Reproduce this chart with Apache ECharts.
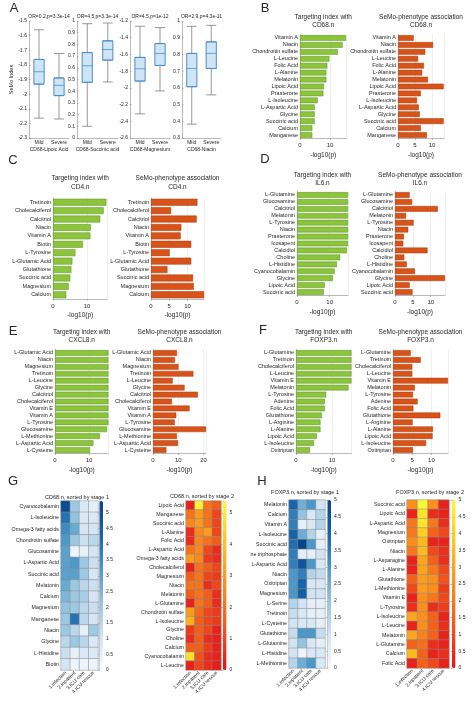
<!DOCTYPE html>
<html>
<head>
<meta charset="utf-8">
<script src="https://cdn.jsdelivr.net/npm/echarts@6/dist/echarts.min.js"></script>
<style>
  html, body { margin: 0; padding: 0; background: #fff; }
  #main { position: absolute; left: 0; top: 0; width: 474px; height: 701px; }
  #hmap { position: absolute; left: 250px; top: 480px; width: 105px; height: 221px; }
</style>
</head>
<body>
<div id="main"></div>
<div id="hmap"></div>
<script>
// ---------- A: SeMo index box plots (min, q1, median, q3, max) ----------
var boxGroups = ['Mild', 'Severe'];
var boxNames = ['CD68-Lipoic Acid', 'CD68-Succinic acid', 'CD68-Magnesium', 'CD68-Niacin'];
var boxTitles = ['OR=0.2,p=3.3e-14', 'OR=4.5,p=3.3e-14', 'OR=4.5,p=1e-12', 'OR=2.9,p=4.3e-11'];
var boxLipoic = [[-2.164, -1.931, -1.847, -1.763, -1.56], [-2.17, -2.01, -1.94, -1.89, -1.722]];
var boxSuccinic = [[0.10, 0.476, 0.617, 0.73, 0.977], [0.479, 0.666, 0.756, 0.83, 0.983]];
var boxMagnesium = [[-2.311, -1.918, -1.771, -1.636, -1.263], [-2.037, -1.732, -1.589, -1.47, -1.279]];
var boxNiacin = [[0.383, 0.607, 0.716, 0.806, 0.968], [0.558, 0.716, 0.806, 0.875, 0.974]];

// ---------- B-F: targeting index / SeMo-phenotype association, -log10(p) ----------
var cd68Cats = ['Vitamin A', 'Niacin', 'Chondroitin sulfate', 'L-Leucine', 'Folic Acid', 'L-Alanine', 'Melatonin',
  'Lipoic Acid', 'Prasterone', 'L-Isoleucine', 'L-Aspartic Acid', 'Glycine', 'Succinic acid', 'Calcium', 'Manganese'];
var cd68Target = [15.3, 14.2, 12.6, 9.8, 9.1, 8.8, 8.8, 8.0, 7.8, 5.9, 4.9, 4.9, 4.9, 4.1, 4.1];
var cd68Semo = [4.6, 10.3, 8.0, 5.9, 7.6, 7.1, 8.8, 13.4, 6.7, 5.6, 6.1, 6.4, 13.4, 6.7, 8.5];

var cd4Cats = ['Tretinoin', 'Cholecalciferol', 'Calcitriol', 'Niacin', 'Vitamin A', 'Biotin', 'L-Tyrosine',
  'L-Glutamic Acid', 'Glutathione', 'Succinic acid', 'Magnesium', 'Calcium'];
var cd4Target = [15.7, 14.9, 13.9, 11.1, 11.0, 8.8, 6.6, 5.7, 5.4, 5.1, 4.6, 3.9];
var cd4Semo = [12.7, 5.5, 12.5, 8.3, 8.1, 11.0, 5.1, 11.0, 4.5, 11.5, 11.7, 14.5];

var il6Cats = ['L-Glutamine', 'Glucosamine', 'Calcitriol', 'Melatonin', 'L-Tyrosine', 'Niacin', 'Prasterone',
  'Icosapent', 'Calcidiol', 'Choline', 'L-Histidine', 'Cyanocobalamin', 'Glycine', 'Lipoic Acid', 'Succinic acid'];
var il6Target = [15.6, 15.6, 15.6, 15.6, 15.6, 15.6, 15.6, 15.6, 15.3, 13.2, 12.2, 11.5, 11.0, 8.5, 8.2];
var il6Semo = [4.1, 4.8, 12.0, 3.1, 5.2, 3.7, 2.5, 2.3, 9.1, 2.6, 3.3, 5.6, 14.0, 4.1, 4.9];

var cxcl8Cats = ['L-Glutamic Acid', 'Niacin', 'Magnesium', 'Tretinoin', 'L-Leucine', 'Glycine', 'Calcitriol',
  'Cholecalciferol', 'Vitamin E', 'Vitamin A', 'L-Tyrosine', 'Glucosamine', 'L-Methionine', 'L-Aspartic Acid', 'L-Cysteine'];
var cxcl8Target = [15.7, 15.7, 15.7, 15.7, 15.7, 15.7, 15.7, 15.7, 15.7, 15.7, 15.7, 15.3, 13.2, 11.3, 10.3];
var cxcl8Semo = [9.5, 8.7, 10.1, 16.0, 7.8, 12.5, 17.8, 7.5, 14.5, 9.2, 8.6, 21.0, 9.5, 9.9, 5.3];

var foxp3Cats = ['L-Glutamine', 'Tretinoin', 'Cholecalciferol', 'L-Leucine', 'Vitamin E', 'Melatonin', 'L-Tyrosine',
  'Adenine', 'Folic Acid', 'Glutathione', 'L-Arginine', 'L-Alanine', 'Lipoic Acid', 'L-Isoleucine', 'Oxitriptan'];
var foxp3Target = [15.4, 15.4, 15.4, 15.4, 15.4, 14.6, 8.4, 8.0, 8.0, 7.2, 6.8, 6.8, 5.8, 5.0, 3.9];
var foxp3Semo = [4.6, 7.2, 5.0, 5.0, 14.3, 5.7, 5.2, 6.4, 5.3, 12.3, 5.1, 10.4, 10.3, 8.6, 5.2];

// ---------- G-H: stage heatmaps ----------
var stages = ['1.infection', '2.inpatient', '3.ICU care', '4.ICU rescue'];

var gRows1 = ['Cyanocobalamin', 'L-Isoleucine', 'Omega-3 fatty acids', 'Chondrotin sulfate', 'Glucosamine',
  'L-Aspartic Acid', 'Succinic acid', 'Melatonin', 'Calcium', 'Magnesium', 'Manganese', 'Niacin', 'Glycine',
  'L-Histidine', 'Biotin'];
var gVals1 = [[5.2, 2.0, 0.8, 0.5], [4.0, 2.2, 0.8, 0.8], [3.5, 2.8, 1.0, 1.0], [3.2, 2.0, 1.2, 1.5],
  [3.0, 0.3, 0.5, 1.0], [3.0, 3.2, 2.0, 1.2], [3.0, 3.0, 2.0, 1.0], [2.8, 2.0, 1.5, 1.2], [2.5, 2.0, 1.8, 1.0],
  [2.2, 2.0, 1.5, 1.2], [2.0, 4.0, 1.5, 1.0], [2.0, 1.5, 0.5, 2.0], [1.5, 2.0, 1.5, 0.8], [1.2, 0.5, 0.8, 0.8],
  [1.0, 0.3, 0.3, 0.3]];

var gRows2 = ['Lipoic Acid', 'Manganese', 'Succinic acid', 'L-Alanine', 'Folic Acid', 'L-Aspartic Acid',
  'Omega-3 fatty acids', 'Cholecalciferol', 'Magnesium', 'Niacin', 'Melatonin', 'L-Glutamine', 'Chondrotin sulfate',
  'L-Isoleucine', 'Glycine', 'Choline', 'Calcium', 'Cyanocobalamin', 'L-Leucine'];
var gVals2 = [[0.3, 5.2, 2.0, 1.5], [2.0, 3.0, 2.0, 1.0], [2.5, 3.0, 2.0, 1.0], [0.5, 2.5, 3.0, 1.0],
  [0.5, 2.5, 2.0, 1.5], [2.0, 2.5, 1.0, 0.5], [3.0, 2.5, 0.8, 0.5], [0.3, 2.0, 1.5, 1.0], [1.5, 2.0, 1.0, 0.8],
  [2.0, 2.0, 0.5, 1.0], [1.5, 2.0, 1.5, 0.5], [0.3, 2.0, 1.5, 0.5], [3.0, 1.8, 1.0, 0.8], [3.5, 1.5, 1.0, 0.8],
  [0.8, 1.5, 1.0, 0.3], [0.5, 1.5, 0.5, 0.3], [1.5, 1.5, 0.8, 0.3], [4.8, 1.2, 0.5, 0.3], [0.3, 1.0, 0.5, 0.2]];

var hRows1 = ['Melatonin', 'Calcium', 'Vitamin A', 'L-Isoleucine', 'Succinic acid', 'Adenosine triphosphate',
  'L-Aspartic Acid', 'Niacin', 'Oxitriptan', 'Magnesium', 'L-Serine', 'Tretinoin', 'L-Cysteine', 'Glutathione',
  'L-Glutamine', 'L-Histidine', 'L-Methionine'];
var hVals1 = [[4.0, 2.5, 3.0, 1.0], [3.5, 2.0, 0.8, 1.5], [3.5, 0.5, 0.8, 1.5], [4.0, 2.5, 1.5, 0.5],
  [3.8, 5.0, 3.0, 0.5], [3.5, 0.5, 0.5, 1.0], [3.5, 4.5, 3.0, 0.8], [3.0, 3.5, 1.5, 1.2], [3.0, 4.0, 0.8, 0.8],
  [3.0, 4.2, 1.0, 1.0], [1.5, 1.0, 0.5, 0.5], [1.2, 0.8, 0.5, 0.5], [1.0, 0.8, 0.8, 0.5], [1.2, 3.0, 3.0, 1.2],
  [1.0, 2.0, 0.8, 0.5], [1.0, 0.3, 0.8, 0.8], [1.5, 2.5, 3.0, 0.8]];

var hRows2 = ['Succinic acid', 'Lipoic Acid', 'L-Aspartic Acid', 'Magnesium', 'Oxitriptan', 'Niacin',
  'L-Asparagine', 'L-Alanine', 'Glutathione', 'L-Methionine', 'Vitamin E', 'L-Tyrosine', 'L-Isoleucine',
  'L-Leucine', 'Melatonin', 'L-Glutamine', 'Calcium', 'Folic Acid'];
var hVals2 = [[2.5, 5.0, 2.5, 0.3], [0.3, 4.5, 0.5, 0.3], [2.0, 4.5, 2.0, 0.5], [2.0, 4.0, 1.5, 1.0],
  [2.5, 3.5, 0.3, 0.3], [2.0, 3.5, 1.0, 0.5], [0.3, 3.0, 1.5, 0.5], [0.3, 3.0, 2.0, 1.0], [1.5, 2.8, 2.5, 1.2],
  [1.0, 2.8, 2.5, 0.8], [0.3, 2.5, 2.0, 1.0], [0.5, 2.5, 0.5, 0.8], [3.0, 2.5, 1.5, 0.3], [0.3, 2.5, 1.5, 0.5],
  [3.0, 2.2, 1.5, 0.3], [1.5, 1.8, 0.5, 0.3], [3.5, 1.5, 0.3, 0.5], [0.3, 1.5, 1.0, 0.3]];

var FONT = '"Liberation Sans", Arial, Helvetica, sans-serif';
var INK = '#262626';
var AXIS = '#8c8c8c';
var GREEN = '#8cc43c', GREEN_EDGE = '#5f8f26';
var ORANGE = '#d95319', ORANGE_EDGE = '#9c3a10';
var BLUES = ['#f7fbff', '#d2e3f3', '#94c4df', '#4a98c9', '#1764ab', '#08468b'];
var HOT = ['#e3131b', '#f2561a', '#fa8f1d', '#fdc421', '#fff838'];

var OX = 0, OY = 0; // offset of the chart div currently being built

function newOpt() {
  return { animation: false, textStyle: { fontFamily: FONT }, grid: [], xAxis: [], yAxis: [], series: [], visualMap: [], graphic: [] };
}

function addGrid(o, left, top, width, height) {
  o.grid.push({ left: left - OX, top: top - OY, width: width, height: height, outerBoundsMode: 'none', containLabel: false });
  return o.grid.length - 1;
}

function txt(o, s, x, y, size) {
  o.graphic.push({
    type: 'text', x: x - OX, y: y - OY, silent: true,
    style: { text: s, fill: INK, font: size + 'px ' + FONT, textAlign: 'center', textVerticalAlign: 'middle' }
  });
}

function addBox(o, stats, title, xname, left, width, ymin, ymax, step, yname) {
  var top = 21, height = 117;
  var gi = addGrid(o, left, top, width, height);
  var xi = o.xAxis.length;
  o.xAxis.push({
    gridIndex: gi, type: 'category', data: boxGroups,
    axisLine: { lineStyle: { color: AXIS, width: 0.6 } }, axisTick: { show: false },
    axisLabel: { fontSize: 5, color: INK, margin: 2.5, interval: 0 },
    name: xname, nameLocation: 'middle', nameGap: 9, nameTextStyle: { fontSize: 5, color: INK }
  });
  o.xAxis.push({ gridIndex: gi, type: 'category', data: boxGroups, show: false, position: 'top' });
  var yi = o.yAxis.length;
  o.yAxis.push({
    gridIndex: gi, type: 'value', min: ymin, max: ymax, interval: step,
    axisLine: { show: true, lineStyle: { color: AXIS, width: 0.6 } },
    axisTick: { show: true, inside: true, length: 1.5, lineStyle: { color: AXIS, width: 0.6 } },
    axisLabel: { fontSize: 5, color: INK, margin: 2 }, splitLine: { show: false },
    name: yname || '', nameLocation: 'middle', nameGap: 14, nameTextStyle: { fontSize: 5.5, color: INK }
  });
  o.series.push({
    type: 'boxplot', xAxisIndex: xi, yAxisIndex: yi, silent: true, boxWidth: [10, 10], data: stats,
    itemStyle: { color: 'rgba(0,0,0,0)', borderColor: '#6b6b6b', borderWidth: 0.7 }
  });
  o.series.push({
    type: 'boxplot', xAxisIndex: xi + 1, yAxisIndex: yi, silent: true, boxWidth: [10, 10],
    data: stats.map(function (s) { return [s[1], s[1], s[2], s[3], s[3]]; }),
    itemStyle: { color: '#cde5f7', borderColor: '#3b87c8', borderWidth: 0.7 }
  });
  txt(o, title, left + width / 2, 17, 5);
}

function addBars(o, cats, vals, left, top, width, height, max, step, color, edge, t1, t2, ty1, ty2) {
  var gi = addGrid(o, left, top, width, height);
  var xi = o.xAxis.length, yi = o.yAxis.length;
  o.xAxis.push({
    gridIndex: gi, type: 'value', min: 0, max: max, interval: step,
    axisLine: { show: true, lineStyle: { color: AXIS, width: 0.6 } },
    axisTick: { show: true, length: 1.5, lineStyle: { color: AXIS, width: 0.6 } },
    axisLabel: { fontSize: 6, color: INK, margin: 4, showMaxLabel: max % step === 0 },
    splitLine: { show: true, lineStyle: { color: '#e4e4e4', width: 0.6 } },
    name: '-log10(p)', nameLocation: 'middle', nameGap: 13, nameTextStyle: { fontSize: 6.5, color: INK }
  });
  o.yAxis.push({
    gridIndex: gi, type: 'category', data: cats, inverse: true,
    axisLine: { lineStyle: { color: AXIS, width: 0.6 } }, axisTick: { show: false },
    axisLabel: { fontSize: 5.5, color: INK, margin: 2, interval: 0 }
  });
  o.series.push({
    type: 'bar', xAxisIndex: xi, yAxisIndex: yi, data: vals, barCategoryGap: '18%', silent: true,
    itemStyle: { color: color, borderColor: edge, borderWidth: 0.5 }
  });
  txt(o, t1, left + width / 2, ty1, 6.5);
  txt(o, t2, left + width / 2, ty2, 6.5);
}

function addHeat(o, rows, vals, left, top, width, height, vmax, colors, cbLeft, cbStep, title, titleX, titleY) {
  var gi = addGrid(o, left, top, width, height);
  var xi = o.xAxis.length, yi = o.yAxis.length;
  o.xAxis.push({
    gridIndex: gi, type: 'category', data: stages, axisLine: { show: false }, axisTick: { show: false },
    axisLabel: { rotate: 45, fontSize: 5, color: INK, margin: 2, interval: 0 }
  });
  o.yAxis.push({
    gridIndex: gi, type: 'category', data: rows, inverse: true, axisLine: { show: false }, axisTick: { show: false },
    axisLabel: { fontSize: 5.3, color: INK, margin: 2, interval: 0 }
  });
  var data = [];
  for (var r = 0; r < rows.length; r++) {
    for (var c = 0; c < stages.length; c++) data.push([c, r, vals[r][c]]);
  }
  var si = o.series.length;
  o.series.push({
    type: 'heatmap', xAxisIndex: xi, yAxisIndex: yi, data: data, silent: true, progressive: 0,
    itemStyle: { borderColor: '#8a8a8a', borderWidth: 0.5 }
  });
  o.visualMap.push({
    type: 'continuous', min: 0, max: vmax, seriesIndex: si, inRange: { color: colors },
    left: cbLeft - OX, top: top - OY, itemWidth: 3.5, itemHeight: height, padding: 0,
    calculable: false, hoverLink: false, show: true
  });
  // colour bar scale
  var gj = addGrid(o, cbLeft, top, 3.5, height);
  o.xAxis.push({ gridIndex: gj, type: 'value', show: false, min: 0, max: 1 });
  o.yAxis.push({
    gridIndex: gj, type: 'value', position: 'right', min: 0, max: vmax, interval: cbStep,
    axisLine: { show: true, lineStyle: { color: AXIS, width: 0.6 } },
    axisTick: { show: true, inside: true, length: 1.5, lineStyle: { color: AXIS, width: 0.6 } },
    axisLabel: { fontSize: 5, color: INK, margin: 3, showMaxLabel: Math.abs(vmax / cbStep - Math.round(vmax / cbStep)) < 1e-6 },
    splitLine: { show: false }
  });
  txt(o, title, titleX, titleY, 5.5);
}

// ---------- main chart ----------
var opt = newOpt();
OX = 0; OY = 0;

txt(opt, 'A', 14, 8, 13);
txt(opt, 'B', 265, 8, 13);
txt(opt, 'C', 13, 160, 13);
txt(opt, 'D', 265, 159, 13);
txt(opt, 'E', 13, 331, 13);
txt(opt, 'F', 263, 330, 13);
txt(opt, 'G', 13, 481, 13);
txt(opt, 'H', 262, 481, 13);

addBox(opt, boxLipoic, boxTitles[0], boxNames[0], 29, 40, -2.3, -1.5, 0.1, 'SeMo Index');
addBox(opt, boxSuccinic, boxTitles[1], boxNames[1], 77, 41, 0, 1, 0.1);
addBox(opt, boxMagnesium, boxTitles[2], boxNames[2], 130, 40, -2.6, -1.2, 0.2);
addBox(opt, boxNiacin, boxTitles[3], boxNames[3], 182, 39, 0.3, 1, 0.1);

addBars(opt, cd68Cats, cd68Target, 300, 34.5, 46.5, 104, 15.5, 10, GREEN, GREEN_EDGE, 'Targeting index with', 'CD68.n', 17, 25);
addBars(opt, cd68Cats, cd68Semo, 398, 34.5, 46, 104, 13.5, 5, ORANGE, ORANGE_EDGE, 'SeMo-phenotype association', 'CD68.n', 17, 25);

addBars(opt, cd4Cats, cd4Target, 53, 198, 54.4, 101, 16, 10, GREEN, GREEN_EDGE, 'Targeting index with', 'CD4.n', 178, 187);
addBars(opt, cd4Cats, cd4Semo, 151, 198, 53, 101, 14.5, 5, ORANGE, ORANGE_EDGE, 'SeMo-phenotype association', 'CD4.n', 178, 187);

addBars(opt, il6Cats, il6Target, 297, 191.5, 51, 104, 15.6, 10, GREEN, GREEN_EDGE, 'Targeting index with', 'IL6.n', 175, 183);
addBars(opt, il6Cats, il6Semo, 395, 191.5, 50, 104, 14, 5, ORANGE, ORANGE_EDGE, 'SeMo-phenotype association', 'IL6.n', 175, 183);

addBars(opt, cxcl8Cats, cxcl8Target, 55, 349.5, 53.4, 104, 15.7, 10, GREEN, GREEN_EDGE, 'Targeting index with', 'CXCL8.n', 332, 340);
addBars(opt, cxcl8Cats, cxcl8Semo, 153, 349.5, 53, 104, 21, 10, ORANGE, ORANGE_EDGE, 'SeMo-phenotype association', 'CXCL8.n', 332, 340);

addBars(opt, foxp3Cats, foxp3Target, 296, 349.5, 55.4, 104, 15.4, 10, GREEN, GREEN_EDGE, 'Targeting index with', 'FOXP3.n', 332, 340);
addBars(opt, foxp3Cats, foxp3Semo, 393, 349.5, 55, 104, 14.3, 5, ORANGE, ORANGE_EDGE, 'SeMo-phenotype association', 'FOXP3.n', 332, 340);

addHeat(opt, gRows1, gVals1, 61, 501, 37, 169, 5.38, BLUES, 99.5, 0.5, 'CD68.n, sorted by stage 1', 77, 497);
addHeat(opt, gRows2, gVals2, 186, 501, 35, 169, 5.38, HOT, 223, 1, 'CD68.n, sorted by stage 2', 202, 496);
addHeat(opt, hRows2, hVals2, 407, 500, 42, 168, 5, HOT, 452, 0.5, 'FOXP3.n, sorted by stage 2', 430, 492);

var myChart = echarts.init(document.getElementById('main'));
myChart.setOption(opt);

// ---------- H, stage 1 heatmap (own div so long labels are clipped on the left) ----------
var optH = newOpt();
OX = 250; OY = 480;
addHeat(optH, hRows1, hVals1, 289, 500, 36, 168, 5, BLUES, 327.5, 0.5, 'FOXP3.n, sorted by stage 1', 305, 492);
var hChart = echarts.init(document.getElementById('hmap'));
hChart.setOption(optH);

window.addEventListener('resize', function () {
  myChart.resize();
  hChart.resize();
});
</script>
</body>
</html>
